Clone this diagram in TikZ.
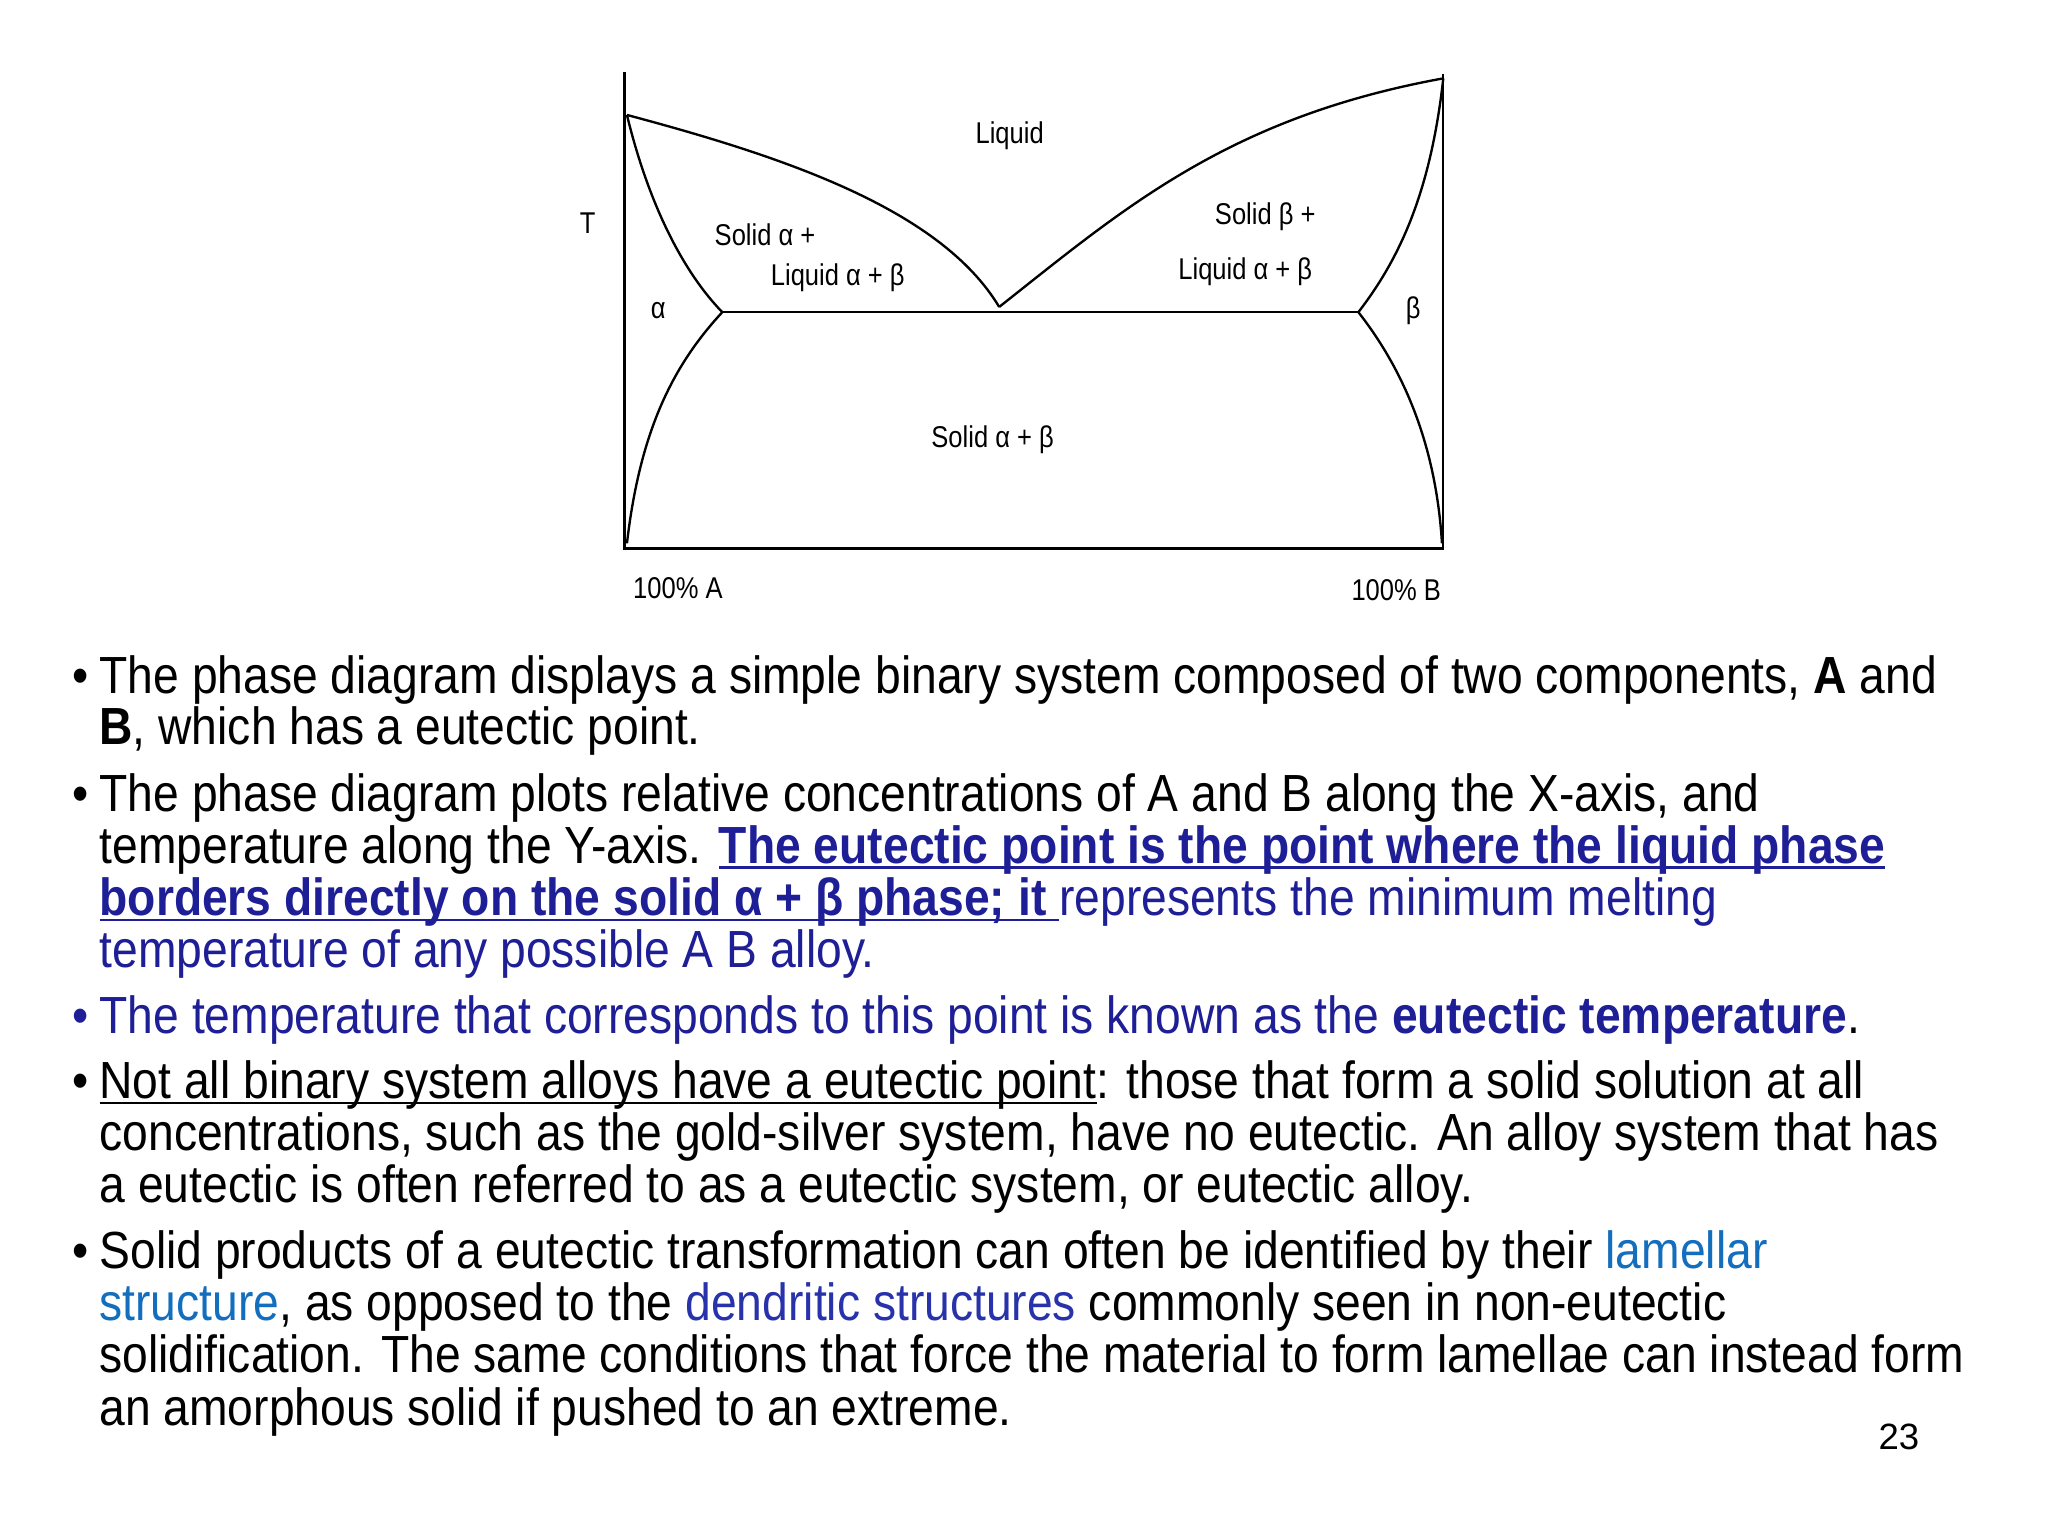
\documentclass[tikz,border=0pt]{standalone}
\usepackage{fontspec}
\setmainfont{Liberation Sans}
\newfontfamily\narrow[FakeStretch=0.885]{Liberation Sans}
\newfontfamily\labfont[FakeStretch=0.85]{Liberation Sans}
\definecolor{dblue}{RGB}{30,30,150}
\definecolor{lblue}{RGB}{20,110,190}
\definecolor{mblue}{RGB}{40,50,170}
\newcommand\myul[1]{\setbox0\hbox{#1}\rlap{\rule[-4pt]{\wd0}{1.6pt}}\box0}
\begin{document}
\begin{tikzpicture}[x=1pt,y=-1pt,
  lab/.style={font=\fontsize{23}{24}\selectfont\labfont,inner sep=0pt},
  body/.style={font=\fontsize{40}{40}\selectfont\narrow,anchor=base west,inner sep=0pt},
  ln/.style={line width=1.8pt}]
\useasboundingbox[fill=white] (0,0) rectangle (1568,1176);
% axes
\draw[ln] (478,55) -- (478,420) -- (1105,420) -- (1105,57);
\coordinate (ta) at (480,88); \coordinate (tb) at (1105,60);
\coordinate (e) at (765,235); \coordinate (la) at (553,239); \coordinate (rb) at (1040,239);
\coordinate (ba) at (480,416); \coordinate (bb) at (1104,416);
\draw[ln] (ta) .. controls (600,120) and (720,160) .. (e);
\draw[ln] (e) .. controls (860,160) and (940,90) .. (tb);
\draw[ln] (la) -- (rb);
\draw[ln] (ta) .. controls (495,150) and (520,205) .. (la);
\draw[ln] (la) .. controls (515,280) and (490,330) .. (ba);
\draw[ln] (tb) .. controls (1095,150) and (1070,200) .. (rb);
\draw[ln] (rb) .. controls (1080,290) and (1100,350) .. (bb);
\node[lab] (t) at (450,171) {T};
\node[lab] (liq) at (773,104) {Liquid};
\node[lab,anchor=west] (s1) at (547,180) {Solid α +};
\node[lab,anchor=west] (l1) at (590,213) {Liquid α + β};
\node[lab,anchor=west] (s2) at (930,166) {Solid β +};
\node[lab,anchor=west] (l2) at (902,208) {Liquid α + β};
\node[lab] (al) at (504,238) {α};
\node[lab] (be) at (1082,238) {β};
\node[lab] (sab) at (760,337) {Solid α + β};
\node[lab] (pa) at (519,450) {100\% A};
\node[lab] (pb) at (1069,452) {100\% B};
% text
\foreach \y in {531,621,841,971} \node[body] at (55,\y) {•};
\node[body] at (76,531) {The phase diagram displays a simple binary system composed of two components, \textbf{A} and};
\node[body] at (76,570) {\textbf{B}, which has a eutectic point.};
\node[body] at (76,621) {The phase diagram plots relative concentrations of A and B along the X-axis, and};
\node[body] at (76,661) {temperature along the Y-axis. \textcolor{dblue}{\textbf{\myul{The eutectic point is the point where the liquid phase}}}};
\node[body,dblue] at (76,701) {\textbf{\myul{borders directly on the solid α + β phase; it }}represents the minimum melting};
\node[body,dblue] at (76,741) {temperature of any possible A B alloy.};
\node[body,dblue] at (55,791) {•};
\node[body,dblue] at (76,791) {The temperature that corresponds to this point is known as the \textbf{eutectic temperature}\textcolor{black}{.}};
\node[body] at (76,841) {\myul{Not all binary system alloys have a eutectic point}: those that form a solid solution at all};
\node[body] at (76,881) {concentrations, such as the gold-silver system, have no eutectic. An alloy system that has};
\node[body] at (76,921) {a eutectic is often referred to as a eutectic system, or eutectic alloy.};
\node[body] at (76,971) {Solid products of a eutectic transformation can often be identified by their \textcolor{lblue}{lamellar}};
\node[body] at (76,1011) {\textcolor{lblue}{structure}, as opposed to the \textcolor{mblue}{dendritic structures} commonly seen in non-eutectic};
\node[body] at (76,1051) {solidification. The same conditions that force the material to form lamellae can instead form};
\node[body] at (76,1091) {an amorphous solid if pushed to an extreme.};
\node[font=\fontsize{28}{30}\selectfont,anchor=base east] (pg) at (1473,1110) {23};
\end{tikzpicture}
\end{document}
